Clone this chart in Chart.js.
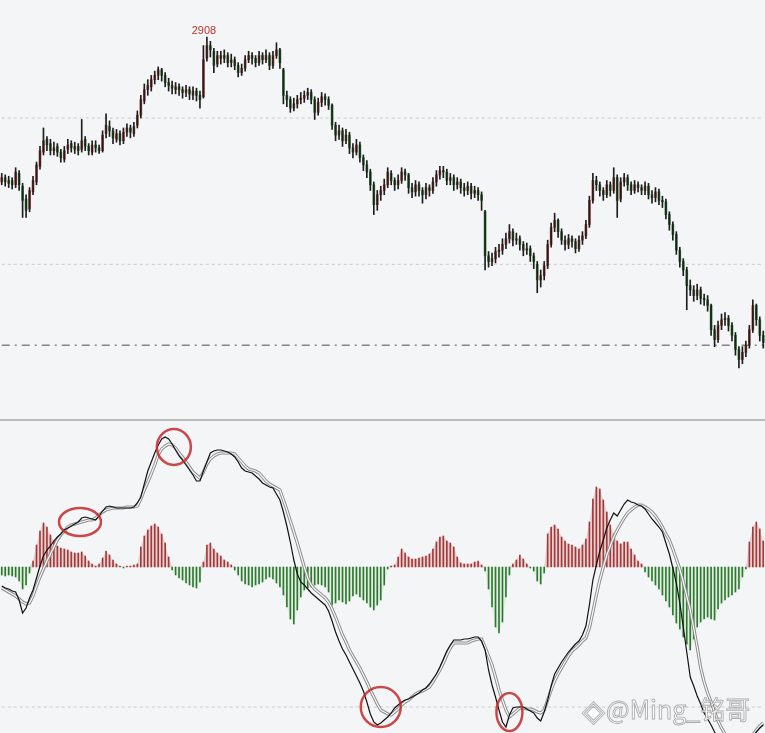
<!DOCTYPE html>
<html>
<head>
<meta charset="utf-8">
<script src="https://cdn.jsdelivr.net/npm/chart.js@4.4.1/dist/chart.umd.min.js"></script>
<style>
  html, body { margin: 0; padding: 0; background: #f4f5f7; }
  #wrap { position: relative; width: 765px; height: 733px; overflow: hidden; background: #f4f5f7; }
  #price { position: absolute; left: 0; top: 0; }
  #macd { position: absolute; left: 0; top: 422px; }
  #sep { position: absolute; left: 0; top: 419px; width: 765px; height: 2px; background: #bcbcbc; }
  #mark { position: absolute; left: 582px; top: 690px; font: 25px "Noto Sans CJK SC", "Noto Sans", sans-serif;
          color: rgba(255,255,255,0.94); -webkit-text-stroke: 0.9px rgba(110,110,110,0.55); white-space: nowrap; }
  #mark .logo { display: inline-block; font-family: "DejaVu Sans"; font-size: 30px; line-height: 25px;
                vertical-align: -2px; margin-right: 1px; }
</style>
</head>
<body>
<div id="wrap">
  <canvas id="price" width="765" height="418"></canvas>
  <div id="sep"></div>
  <canvas id="macd" width="765" height="311"></canvas>
  <div id="mark"><span class="logo">◈</span>@Ming_铭哥</div>
</div>
<script>
// daily candles
const opens = [
  2806,2809,2805,2807,2804,2812,2803,2794,2787,2799, 2806,2817,2827,2836,2833,2828,2831,2827,2822,2829,
  2833,2829,2831,2829,2836,2831,2827,2832,2830,2828, 2840,2845,2842,2836,2840,2835,2841,2844,2840,2846,
  2853,2863,2871,2873,2878,2881,2885,2881,2876,2874, 2871,2873,2871,2869,2871,2867,2870,2867,2866,2893,
  2902,2898,2889,2895,2893,2895,2890,2892,2888,2883, 2886,2892,2895,2893,2890,2895,2892,2895,2888,2895,
  2899,2885,2867,2864,2858,2861,2864,2865,2867,2869, 2864,2855,2862,2866,2864,2860,2846,2839,2842,2835,
  2839,2830,2827,2832,2823,2818,2813,2804,2790,2797, 2800,2804,2812,2807,2804,2807,2813,2811,2802,2799,
  2804,2800,2797,2802,2800,2806,2811,2814,2813,2807, 2809,2804,2806,2802,2800,2803,2798,2800,2797,2785,
  2754,2750,2752,2757,2758,2762,2766,2771,2765,2766, 2762,2758,2759,2754,2748,2737,2740,2747,2762,2774,
  2779,2771,2765,2762,2766,2764,2759,2765,2768,2776, 2793,2807,2804,2800,2797,2804,2800,2809,2794,2806,
  2809,2804,2800,2804,2802,2800,2803,2797,2795,2799, 2793,2792,2783,2776,2769,2758,2750,2744,2733,2730,
  2726,2730,2724,2723,2719,2702,2695,2705,2709,2710, 2705,2698,2688,2681,2686,2691,2702,2719,2709,2698
];
const highs = [
  2812,2811,2810,2809,2816,2814,2805,2797,2802,2810, 2820,2831,2844,2838,2836,2834,2833,2829,2831,2836,
  2835,2834,2833,2850,2838,2833,2835,2835,2832,2842, 2854,2849,2844,2843,2842,2844,2847,2846,2848,2856,
  2867,2875,2878,2881,2884,2887,2886,2883,2879,2877, 2876,2875,2873,2874,2873,2873,2872,2870,2902,2908,
  2905,2900,2898,2898,2899,2897,2896,2894,2890,2889, 2895,2898,2897,2895,2898,2897,2899,2897,2898,2904,
  2900,2886,2870,2866,2865,2867,2869,2870,2872,2871, 2866,2865,2869,2868,2866,2861,2848,2846,2844,2843,
  2841,2833,2836,2834,2825,2821,2815,2806,2800,2803, 2808,2816,2814,2809,2811,2816,2815,2812,2805,2807,
  2806,2802,2805,2804,2809,2814,2817,2817,2815,2812, 2811,2809,2808,2805,2806,2805,2803,2802,2799,2786,
  2757,2756,2760,2762,2766,2770,2776,2773,2770,2768, 2764,2763,2761,2756,2750,2744,2750,2765,2777,2784,
  2780,2773,2768,2769,2768,2766,2768,2771,2779,2796, 2812,2810,2806,2802,2807,2806,2816,2811,2809,2812,
  2811,2806,2807,2806,2804,2806,2805,2800,2802,2801, 2796,2794,2785,2778,2771,2760,2752,2746,2737,2733,
  2734,2732,2727,2726,2720,2705,2708,2713,2714,2712, 2707,2700,2690,2690,2694,2705,2723,2720,2711,2701
];
const lows = [
  2804,2803,2802,2801,2802,2800,2781,2781,2785,2797, 2804,2815,2825,2828,2825,2825,2824,2820,2820,2826,
  2827,2826,2825,2827,2828,2825,2825,2827,2826,2827, 2837,2838,2833,2834,2832,2833,2838,2837,2838,2844,
  2851,2861,2867,2870,2875,2878,2877,2873,2870,2868, 2868,2867,2865,2866,2864,2864,2863,2858,2865,2891,
  2894,2883,2887,2889,2890,2887,2887,2885,2880,2881, 2884,2890,2889,2887,2888,2889,2890,2885,2886,2893,
  2886,2861,2859,2855,2856,2858,2861,2862,2864,2861, 2850,2853,2859,2860,2857,2843,2835,2836,2831,2833,
  2826,2823,2825,2820,2814,2809,2800,2783,2786,2793, 2797,2802,2804,2800,2801,2805,2807,2798,2795,2796,
  2796,2791,2794,2796,2798,2803,2808,2809,2804,2804, 2800,2801,2798,2796,2797,2794,2795,2793,2786,2744,
  2746,2747,2749,2753,2755,2759,2763,2761,2762,2758, 2754,2755,2750,2745,2728,2732,2737,2745,2760,2771,
  2767,2762,2758,2759,2760,2756,2757,2762,2766,2774, 2791,2800,2796,2793,2795,2796,2798,2781,2792,2803,
  2800,2797,2798,2799,2797,2797,2794,2791,2792,2790, 2788,2780,2772,2765,2755,2746,2740,2716,2726,2722,
  2723,2720,2719,2715,2698,2690,2693,2702,2705,2701, 2694,2684,2675,2678,2683,2689,2700,2705,2694,2689
];
const closes = [
  2809,2806,2807,2804,2813,2804,2793,2786,2800,2807, 2818,2828,2835,2832,2828,2830,2827,2823,2828,2832,
  2830,2831,2828,2835,2831,2828,2832,2830,2828,2839, 2846,2842,2837,2840,2835,2841,2844,2841,2845,2853,
  2864,2871,2874,2878,2881,2885,2881,2876,2874,2872, 2873,2871,2869,2871,2868,2870,2867,2864,2892,2902,
  2899,2888,2895,2893,2895,2890,2892,2888,2883,2886, 2892,2895,2893,2890,2895,2892,2895,2888,2895,2899,
  2890,2867,2864,2858,2861,2864,2865,2867,2869,2864, 2855,2862,2866,2864,2860,2846,2839,2842,2835,2839,
  2830,2827,2832,2823,2818,2813,2804,2790,2797,2800, 2804,2813,2807,2804,2807,2813,2811,2802,2799,2804,
  2800,2797,2802,2800,2806,2811,2814,2813,2807,2809, 2804,2806,2802,2800,2803,2798,2800,2797,2793,2754,
  2750,2752,2757,2758,2762,2766,2771,2765,2766,2762, 2758,2759,2754,2750,2737,2740,2747,2762,2774,2779,
  2771,2765,2762,2766,2764,2759,2765,2768,2776,2793, 2807,2804,2800,2797,2804,2800,2809,2793,2806,2809,
  2804,2800,2804,2802,2800,2803,2797,2795,2799,2793, 2792,2783,2776,2769,2758,2750,2744,2733,2730,2726,
  2730,2724,2723,2719,2702,2695,2705,2709,2710,2705, 2698,2688,2681,2686,2691,2702,2719,2709,2698,2693
];
// guide levels on the price panel
const gridLevels = [2851, 2748];
const pivotLevel = 2691;

// MACD panel
const dif = [
  -1.9,-2.1,-2.2,-2.4,-2.5,-3.3,-4.6,-4.1,-3.1,-2.3, -1.1,0.1,1.1,1.7,2.1,2.6,3.0,3.3,3.7,3.9,
  4.1,4.3,4.5,4.9,5.0,4.9,4.8,4.7,5.1,5.6, 6.0,6.1,6.0,5.9,5.9,5.9,5.9,5.9,6.0,6.4,
  7.0,8.3,9.6,10.5,11.4,12.2,12.8,13.0,12.8,12.3, 11.7,11.1,10.7,10.2,9.7,9.2,8.6,8.6,9.6,10.5,
  11.4,11.6,11.7,11.7,11.6,11.5,11.3,11.0,10.5,9.9, 9.6,9.5,9.4,9.1,8.8,8.4,8.2,8.0,7.9,7.3,
  6.7,5.5,4.1,2.5,0.7,-0.7,-1.5,-1.8,-2.2,-2.6, -2.9,-3.2,-3.5,-3.8,-4.4,-5.4,-6.5,-7.4,-8.2,-8.8,
  -9.5,-10.2,-10.9,-11.6,-12.4,-13.5,-14.7,-15.5,-15.8,-15.6, -15.3,-15.0,-14.6,-14.1,-13.8,-13.5,-13.3,-13.2,-13.0,-12.8,
  -12.6,-12.3,-12.1,-11.7,-11.2,-10.7,-10.0,-9.2,-8.4,-7.8, -7.3,-7.3,-7.3,-7.2,-7.2,-7.1,-7.0,-7.0,-7.4,-8.3,
  -10.3,-11.8,-13.0,-14.3,-15.5,-16.0,-14.8,-14.1,-14.0,-14.0, -14.0,-14.2,-14.4,-14.6,-15.1,-15.4,-14.5,-13.3,-11.9,-10.7,
  -10.1,-9.5,-9.0,-8.5,-8.1,-7.7,-7.4,-6.8,-5.9,-3.8, -1.3,0.2,1.6,2.7,3.9,4.7,5.4,5.1,5.7,6.3,
  6.7,6.5,6.4,6.2,6.1,5.8,5.3,4.8,4.4,4.0, 3.5,2.4,1.3,-0.1,-1.6,-3.6,-6.0,-8.5,-11.0,-11.9,
  -12.9,-13.7,-14.6,-15.2,-15.8,-16.5,-17.1,-17.6,-17.8,-18.0, -18.1,-18.2,-18.2,-18.0,-17.7,-17.3,-16.9,-16.5,-16.1,-15.8
];
const dea = [
  -2.1,-2.3,-2.5,-2.7,-2.9,-3.2,-3.5,-3.7,-3.6,-2.9, -1.9,-1.0,-0.2,0.6,1.3,2.0,2.7,3.2,3.6,4.0,
  4.2,4.3,4.4,4.5,4.6,4.7,4.7,4.9,5.2,5.5, 5.7,5.8,5.9,5.9,5.9,5.9,6.0,6.0,6.0,6.1,
  6.8,7.7,8.5,9.3,10.2,11.2,11.8,12.1,12.3,12.2, 11.9,11.4,11.0,10.5,10.0,9.5,9.2,8.9,9.5,10.3,
  10.8,11.1,11.3,11.4,11.4,11.4,11.4,11.3,10.9,10.5, 10.1,9.8,9.7,9.6,9.4,9.0,8.6,8.3,8.1,7.9,
  7.7,6.7,5.7,4.6,3.5,2.4,1.2,0.0,-1.1,-1.8, -2.2,-2.5,-2.8,-3.1,-3.5,-4.2,-5.0,-5.9,-6.8,-7.5,
  -8.3,-8.9,-9.5,-10.1,-10.8,-11.5,-12.3,-13.0,-13.7,-14.3, -14.5,-14.7,-14.8,-14.5,-14.2,-13.8,-13.5,-13.3,-13.0,-12.7,
  -12.5,-12.4,-12.2,-12.0,-11.5,-10.9,-10.3,-9.6,-8.8,-8.1, -7.6,-7.6,-7.6,-7.6,-7.6,-7.4,-7.3,-7.2,-7.2,-8.0,
  -8.9,-9.8,-11.0,-12.3,-13.3,-14.3,-15.0,-14.7,-14.4,-14.1, -14.1,-14.2,-14.2,-14.3,-14.5,-14.6,-14.3,-13.3,-12.3,-11.4,
  -10.7,-10.1,-9.5,-8.9,-8.4,-8.1,-7.8,-7.4,-7.1,-6.1, -4.5,-2.8,-1.3,0.0,1.2,2.1,3.0,3.7,4.3,4.9,
  5.4,5.7,6.0,6.2,6.2,6.0,5.8,5.5,5.1,4.6, 4.0,3.3,2.7,1.8,0.8,-0.2,-1.5,-2.9,-4.3,-6.1,
  -8.0,-10.1,-11.5,-12.6,-13.5,-14.5,-15.4,-16.1,-16.7,-17.2, -17.4,-17.6,-17.7,-17.8,-17.8,-17.3,-16.8,-16.3,-15.9,-15.6
];
const hist = [
  -0.8,-0.9,-0.8,-0.9,-1.0,-1.4,-2.2,-1.8,-0.6,0.6, 2.2,3.6,4.4,4.0,3.2,2.6,2.1,1.9,1.8,1.7,
  1.5,1.4,1.4,1.5,1.1,0.6,0.3,0.1,0.3,0.9, 1.6,1.2,0.7,0.3,0.1,-0.1,0.1,0.1,0.2,0.3,
  2.0,3.1,3.7,4.1,4.3,4.0,3.3,2.4,1.0,-0.3, -0.8,-1.1,-1.3,-1.6,-1.8,-2.0,-2.1,-1.5,0.5,2.2,
  2.4,1.8,1.4,1.1,0.7,0.5,0.2,-0.3,-0.8,-1.4, -1.7,-1.8,-2.0,-1.8,-1.7,-1.5,-1.2,-1.0,-1.2,-1.6,
  -2.0,-2.8,-4.0,-5.2,-5.7,-4.3,-3.0,-2.3,-2.1,-2.0, -1.8,-1.7,-1.8,-2.0,-2.5,-3.8,-3.6,-3.3,-3.5,-3.7,
  -3.4,-2.9,-2.7,-3.0,-3.3,-3.6,-4.0,-4.3,-3.8,-3.3, -1.8,-0.2,0.1,0.2,1.0,1.8,1.4,1.0,0.8,0.8,
  0.9,1.0,1.1,1.3,1.8,2.5,3.0,3.1,2.6,2.4, 2.0,1.0,0.4,0.3,0.3,0.3,0.5,0.6,0.2,-0.4,
  -2.2,-4.0,-6.0,-6.6,-5.5,-3.0,-0.8,0.3,0.7,1.2, 0.8,0.3,-0.1,-0.4,-1.4,-1.7,-0.6,3.3,4.0,4.2,
  3.8,3.0,2.6,2.3,2.2,2.0,1.8,2.2,2.8,4.5, 6.8,8.0,7.8,6.7,5.5,4.2,3.3,2.6,2.3,2.5,
  2.5,1.8,1.2,0.6,0.3,-0.5,-1.0,-1.4,-1.8,-2.2, -2.8,-3.4,-4.0,-4.8,-5.6,-6.2,-7.0,-7.7,-8.3,-7.2,
  -6.0,-5.5,-5.2,-5.0,-5.2,-5.3,-4.2,-3.6,-3.3,-3.0, -2.8,-2.5,-2.2,-1.0,-0.2,2.5,4.0,4.5,3.8,2.6
];
const macdGuide = -14.0;

// red rings drawn on the MACD lines (bar index, value)
const ringIndex = [22.5, 49.5, 109, 146];
const ringValue = [4.5, 12.0, -14.0, -14.5];

const labels = closes.map((c, i) => i);
const isUp = closes.map((c, i) => c >= opens[i]);

function baseOptions(yMin, yMax) {
  return {
    responsive: false,
    animation: false,
    layout: { padding: 0 },
    plugins: { legend: { display: false }, tooltip: { enabled: false } },
    scales: {
      x: { display: false, offset: true },
      y: { display: false, min: yMin, max: yMax }
    }
  };
}

function flatLine(level, color, dash, width, order) {
  return {
    type: 'line',
    data: labels.map(() => level),
    borderColor: color,
    borderDash: dash,
    borderWidth: width,
    pointRadius: 0,
    order: order
  };
}

const peakLabel = {
  id: 'peakLabel',
  afterDatasetsDraw(chart) {
    let top = Math.max(...highs);
    let i = highs.indexOf(top);
    let x = chart.scales.x.getPixelForValue(i);
    let y = chart.scales.y.getPixelForValue(top);
    let ctx = chart.ctx;
    ctx.save();
    ctx.fillStyle = '#c4302b';
    ctx.font = '11px "Liberation Sans", Arial, sans-serif';
    ctx.textAlign = 'center';
    ctx.textBaseline = 'bottom';
    ctx.fillText(String(top), x - 3, y - 1);
    ctx.restore();
  }
};

const rings = {
  id: 'rings',
  afterDatasetsDraw(chart) {
    const radii = [[21, 14], [17, 18], [20, 20], [13, 19]];
    let ctx = chart.ctx;
    ctx.save();
    ctx.strokeStyle = 'rgba(196,40,40,0.85)';
    ctx.lineWidth = 2.5;
    ringIndex.forEach((idx, k) => {
      let x = chart.scales.x.getPixelForValue(idx);
      let y = chart.scales.y.getPixelForValue(ringValue[k]);
      ctx.beginPath();
      ctx.ellipse(x, y, radii[k][0], radii[k][1], 0, 0, Math.PI * 2);
      ctx.stroke();
    });
    ctx.restore();
  }
};

new Chart(document.getElementById('price'), {
  type: 'bar',
  data: {
    labels: labels,
    datasets: [
      flatLine(gridLevels[0], '#c9c9c9', [3, 3], 1, 5),
      flatLine(gridLevels[1], '#c9c9c9', [3, 3], 1, 5),
      flatLine(pivotLevel, '#858585', [8, 5, 2, 5], 1.5, 5),
      {
        type: 'bar',
        data: opens.map((o, i) => [o, closes[i]]),
        backgroundColor: isUp.map(u => u ? '#a8463f' : '#34813a'),
        barThickness: 2,
        minBarLength: 1,
        grouped: false,
        order: 2
      },
      {
        type: 'bar',
        data: lows.map((l, i) => [l, highs[i]]),
        backgroundColor: '#1e1e1e',
        barThickness: 1,
        grouped: false,
        order: 1
      }
    ]
  },
  options: baseOptions(2639.8, 2934.1),
  plugins: [peakLabel]
});

new Chart(document.getElementById('macd'), {
  type: 'bar',
  data: {
    labels: labels,
    datasets: [
      flatLine(macdGuide, '#c9c9c9', [3, 3], 1, 6),
      {
        type: 'line',
        data: hist.map(v => v > 0 ? v : 0),
        borderWidth: 0,
        pointRadius: 0,
        fill: 'origin',
        backgroundColor: 'rgba(205,120,120,0.30)',
        order: 5
      },
      {
        type: 'line',
        data: hist.map(v => v < 0 ? v : 0),
        borderWidth: 0,
        pointRadius: 0,
        fill: 'origin',
        backgroundColor: 'rgba(120,180,120,0.14)',
        order: 5
      },
      {
        type: 'bar',
        data: hist,
        backgroundColor: hist.map(v => v >= 0 ? '#a33a3a' : '#2b7a2b'),
        barThickness: 1,
        grouped: false,
        order: 4
      },
      {
        type: 'line',
        data: dea,
        borderColor: '#8c8c8c',
        borderWidth: 3.2,
        pointRadius: 0,
        order: 3
      },
      {
        type: 'line',
        data: dea,
        borderColor: '#fafafa',
        borderWidth: 1.2,
        pointRadius: 0,
        order: 2
      },
      {
        type: 'line',
        data: dif,
        borderColor: '#111111',
        borderWidth: 1.2,
        pointRadius: 0,
        order: 1
      }
    ]
  },
  options: baseOptions(-16.6, 14.5),
  plugins: [rings]
});
</script>
</body>
</html>
